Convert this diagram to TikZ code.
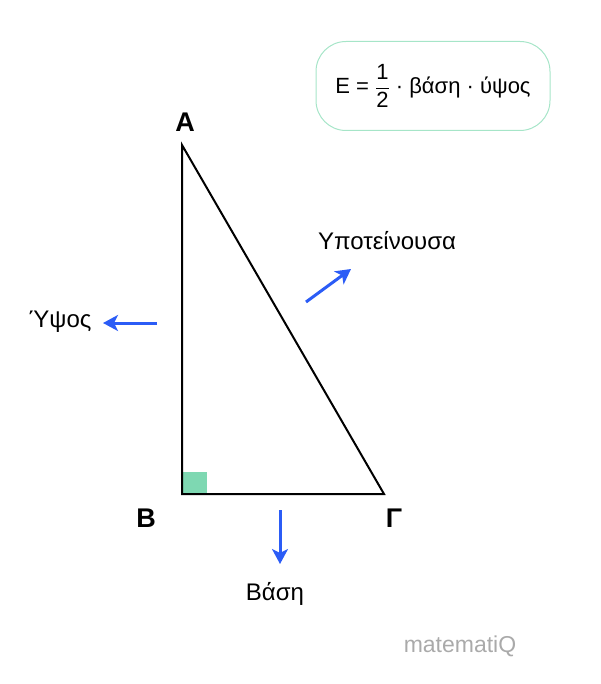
\documentclass[tikz,border=0pt]{standalone}
\usepackage{fontspec}
\setmainfont{Liberation Sans}
\usetikzlibrary{arrows.meta}

\definecolor{arrowblue}{HTML}{2B5CF6}
\definecolor{anglegreen}{HTML}{7ED8B2}
\definecolor{boxgreen}{HTML}{A6E5C8}
\definecolor{markgray}{HTML}{AAAAAA}

\tikzset{
	pil/.style={-{Stealth[length=15pt,width=16pt,inset=4pt]}, line width=3pt, color=arrowblue},
	vertex/.style={font=\fontsize{27}{27}\selectfont\bfseries},
	word/.style={font=\fontsize{24}{24}\selectfont},
}

\begin{document}
\begin{tikzpicture}[x=1pt, y=-1pt]
	\useasboundingbox (0,0) rectangle (601,684);

	% triangle
	\coordinate (A) at (182,145);
	\coordinate (B) at (182,494);
	\coordinate (G) at (384,494);
	\fill[anglegreen] (B) rectangle (207,472);
	\draw[line width=2pt, line join=miter] (A) -- (B) -- (G) -- cycle;

	\node[vertex] (labA) at (185,122) {A};
	\node[vertex] (labB) at (146,518) {B};
	\node[vertex] (labG) at (394,518) {Γ};

	% height
	\coordinate (h0) at (157,323);
	\coordinate (h1) at (103,323);
	\draw[pil] (h0) -- (h1);
	\node[word, anchor=east] (ypsos) at (95,322) {Ύψος};

	% base
	\coordinate (b0) at (280,510);
	\coordinate (b1) at (280,564);
	\draw[pil] (b0) -- (b1);
	\node[word] (basi) at (275,594) {Βάση};

	% hypotenuse
	\coordinate (u0) at (306,302);
	\coordinate (u1) at (351,269);
	\draw[pil] (u0) -- (u1);
	\node[word] (ypot) at (387,241) {Υποτείνουσα};

	% area formula
	\node[draw=boxgreen, line width=1pt, rounded corners=30pt, minimum width=234pt, minimum height=89pt,
		font=\fontsize{22}{22}\selectfont] (emb) at (433,86)
		{\raisebox{-3pt}{E = $\displaystyle\frac{\mbox{1}}{\mbox{2}}$ · βάση · ύψος}};

	\node[font=\fontsize{23}{23}\selectfont, text=markgray] (mark) at (460,646) {matematiQ};
\end{tikzpicture}
\end{document}
